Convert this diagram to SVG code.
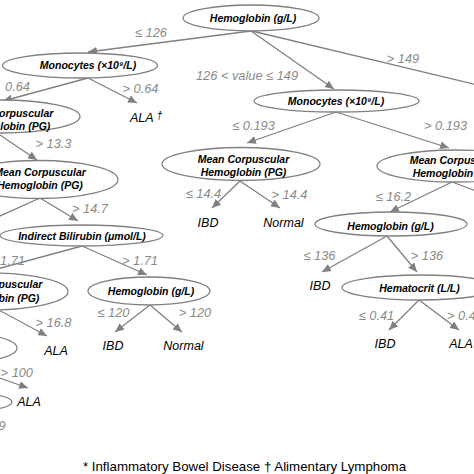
<svg xmlns="http://www.w3.org/2000/svg" width="474" height="474" viewBox="0 0 474 474">
<style>
.n ellipse{fill:#fff;stroke:#808080;stroke-width:1.3}
.nt{font-family:"Liberation Sans",Arial,sans-serif;font-size:10.5px;font-weight:bold;font-style:italic;fill:#000;text-anchor:middle}
.el{font-family:"Liberation Sans",Arial,sans-serif;font-size:12.8px;font-style:italic;fill:#8a8a8a;text-anchor:middle}
.lf{font-family:"Liberation Sans",Arial,sans-serif;font-size:12.5px;font-style:italic;fill:#000;text-anchor:middle}
.e line{stroke:#808080;stroke-width:1.3;fill:none}
.a{marker-end:url(#ah)}
.fn{font-family:"Liberation Sans",Arial,sans-serif;font-size:13.3px;fill:#000;text-anchor:middle}
</style>
<defs>
<marker id="ah" markerWidth="10" markerHeight="8" refX="9" refY="4" orient="auto" markerUnits="userSpaceOnUse">
<path d="M0,0 L9,4 L0,8 z" fill="#808080"/>
</marker>
</defs>
<rect width="474" height="474" fill="#fff"/>
<g class="e" id="connectors">
<line class="a" x1="251" y1="31" x2="88" y2="52"/>
<line class="a" x1="251" y1="31" x2="334" y2="89"/>
<line x1="252" y1="31" x2="490" y2="88"/>
<line class="a" x1="88" y1="78" x2="3" y2="101"/>
<line class="a" x1="88" y1="78" x2="137" y2="103"/>
<line class="a" x1="-3" y1="133" x2="37" y2="160"/>
<line class="a" x1="40" y1="198" x2="78" y2="221"/>
<line x1="40" y1="198" x2="-20" y2="225"/>
<line class="a" x1="82" y1="246" x2="147" y2="275"/>
<line x1="82" y1="246" x2="-10" y2="271"/>
<line class="a" x1="-3" y1="309" x2="47" y2="336"/>
<line class="a" x1="150" y1="305" x2="115" y2="332"/>
<line class="a" x1="150" y1="305" x2="182" y2="332"/>
<line class="a" x1="-20" y1="371" x2="28" y2="388"/>
<line class="a" x1="336" y1="112" x2="247" y2="143"/>
<line class="a" x1="336" y1="112" x2="449" y2="148"/>
<line class="a" x1="240" y1="181" x2="212" y2="208"/>
<line class="a" x1="240" y1="181" x2="280" y2="208"/>
<line class="a" x1="452" y1="182" x2="390" y2="212"/>
<line x1="452" y1="182" x2="490" y2="196"/>
<line class="a" x1="387" y1="236" x2="322" y2="272"/>
<line class="a" x1="387" y1="236" x2="417" y2="272"/>
<line class="a" x1="419" y1="300" x2="389" y2="330"/>
<line class="a" x1="419" y1="300" x2="459" y2="330"/>
</g>
<g id="edge-labels">
<text class="el" x="151" y="37">≤ 126</text>
<text class="el" x="247" y="80">126 &lt; value ≤ 149</text>
<text class="el" x="403" y="63">&gt; 149</text>
<text class="el" x="30" y="91" style="text-anchor:end">0.64</text>
<text class="el" x="140.5" y="93">&gt; 0.64</text>
<text class="el" x="53.5" y="148">&gt; 13.3</text>
<text class="el" x="90" y="213">&gt; 14.7</text>
<text class="el" x="25" y="265" style="text-anchor:end">1.71</text>
<text class="el" x="140" y="265">&gt; 1.71</text>
<text class="el" x="53.5" y="327">&gt; 16.8</text>
<text class="el" x="113.5" y="317">≤ 120</text>
<text class="el" x="195" y="317">&gt; 120</text>
<text class="el" x="33" y="377" style="text-anchor:end">&gt; 100</text>
<text class="el" x="5.5" y="430" style="text-anchor:end">9</text>
<text class="el" x="253.5" y="130">≤ 0.193</text>
<text class="el" x="445.5" y="130">&gt; 0.193</text>
<text class="el" x="203.5" y="198">≤ 14.4</text>
<text class="el" x="289.5" y="199">&gt; 14.4</text>
<text class="el" x="393.5" y="201">≤ 16.2</text>
<text class="el" x="319.5" y="260">≤ 136</text>
<text class="el" x="427" y="260">&gt; 136</text>
<text class="el" x="376.5" y="320">≤ 0.41</text>
<text class="el" x="447" y="320" style="text-anchor:start">&gt; 0.41</text>
</g>
<g id="n-hgb-top" class="n"><ellipse cx="251" cy="18" rx="68" ry="13"/><text class="nt" x="253" y="22">Hemoglobin (g/L)</text></g>
<g id="n-mono-l" class="n"><ellipse cx="80" cy="65.5" rx="77.5" ry="12.5"/><text class="nt" x="88" y="68.5">Monocytes (×10⁹/L)</text></g>
<g id="n-mono-r" class="n"><ellipse cx="336.5" cy="101" rx="82.5" ry="11"/><text class="nt" x="336" y="105">Monocytes (×10⁹/L)</text></g>
<g id="n-mch1" class="n"><ellipse cx="1" cy="116.5" rx="79" ry="16.5"/><text class="nt" x="7.5" y="117">Mean Corpuscular</text><text class="nt" x="7.5" y="130">Hemoglobin (PG)</text></g>
<g id="n-mch2" class="n"><ellipse cx="39" cy="179.5" rx="79" ry="19"/><text class="nt" x="40" y="176">Mean Corpuscular</text><text class="nt" x="40" y="189">Hemoglobin (PG)</text></g>
<g id="n-ibil" class="n"><ellipse cx="81.5" cy="235.5" rx="81.5" ry="10.5"/><text class="nt" x="82" y="239.5">Indirect Bilirubin (μmol/L)</text></g>
<g id="n-mch3" class="n"><ellipse cx="-11" cy="291.5" rx="79" ry="18.5"/><text class="nt" x="-3.5" y="288">Mean Corpuscular</text><text class="nt" x="-3.5" y="302">Hemoglobin (PG)</text></g>
<g id="n-hgb-l" class="n"><ellipse cx="149" cy="291" rx="61" ry="14"/><text class="nt" x="151" y="294.5">Hemoglobin (g/L)</text></g>
<g id="n-cut1" class="n"><ellipse cx="-61" cy="348" rx="78" ry="17"/></g>
<g id="n-cut2" class="n"><ellipse cx="-66" cy="402" rx="78" ry="12"/></g>
<g id="n-mch-m" class="n"><ellipse cx="241" cy="164" rx="79" ry="16.5"/><text class="nt" x="243.5" y="163">Mean Corpuscular</text><text class="nt" x="243.5" y="176">Hemoglobin (PG)</text></g>
<g id="n-mch-r" class="n"><ellipse cx="455" cy="166" rx="78" ry="16"/><text class="nt" x="455.5" y="164">Mean Corpuscular</text><text class="nt" x="455.5" y="177">Hemoglobin (PG)</text></g>
<g id="n-hgb-r" class="n"><ellipse cx="391" cy="224" rx="76" ry="12"/><text class="nt" x="390.5" y="230">Hemoglobin (g/L)</text></g>
<g id="n-hct" class="n"><ellipse cx="420" cy="287.5" rx="78" ry="12.5"/><text class="nt" x="419.5" y="292">Hematocrit (L/L)</text></g>
<g id="leaf-ala1"><text class="lf" x="130" y="122" style="text-anchor:start">ALA <tspan font-size="10" dy="-3">†</tspan></text></g>
<g id="leaf-ibd1"><text class="lf" x="208" y="227">IBD</text></g>
<g id="leaf-normal1"><text class="lf" x="283.5" y="227">Normal</text></g>
<g id="leaf-ibd2"><text class="lf" x="113" y="350">IBD</text></g>
<g id="leaf-normal2"><text class="lf" x="183.5" y="350">Normal</text></g>
<g id="leaf-ala2"><text class="lf" x="56" y="355">ALA</text></g>
<g id="leaf-ala3"><text class="lf" x="29" y="406">ALA</text></g>
<g id="leaf-ibd3"><text class="lf" x="320" y="290">IBD</text></g>
<g id="leaf-ibd4"><text class="lf" x="385" y="348">IBD</text></g>
<g id="leaf-ala4"><text class="lf" x="461" y="348">ALA</text></g>
<text class="fn" x="244.5" y="471">* Inflammatory Bowel Disease † Alimentary Lymphoma</text>
</svg>
